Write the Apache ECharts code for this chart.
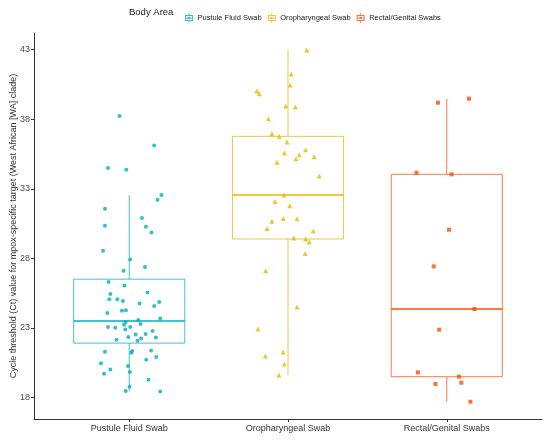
<!DOCTYPE html>
<html>
<head>
<meta charset="utf-8">
<script src="https://cdn.jsdelivr.net/npm/echarts@6/dist/echarts.min.js"></script>
<style>html,body{margin:0;padding:0;background:#fff}#c{width:550px;height:442px}</style>
</head>
<body>
<div id="c"></div>
<script>
const categories = ["Pustule Fluid Swab", "Oropharyngeal Swab", "Rectal/Genital Swabs"];
const yTicks = [18, 23, 28, 33, 38, 43];
const colors = ["#00AFBB", "#E7B800", "#FC4E07"];

// Ct values
const pustuleValues = [38.23,36.12,34.49,34.37,32.55,32.21,31.57,30.90,30.35,30.27,29.86,28.55,27.92,27.38,27.11,26.30,26.05,25.55,25.43,25.05,25.05,24.93,24.86,24.76,24.57,24.07,24.23,24.26,23.68,23.56,23.42,23.28,23.23,23.06,23.01,23.06,22.89,22.77,22.53,22.56,22.34,22.24,22.31,22.15,22.08,21.29,21.34,21.21,21.38,20.90,20.71,20.45,20.26,20.01,19.83,19.70,19.27,18.77,18.46,18.43];
const pustuleJitter = [-0.061,0.157,-0.134,-0.019,0.203,0.178,-0.153,0.080,-0.153,0.105,0.140,-0.165,0.006,0.099,-0.036,-0.130,-0.030,0.115,-0.119,-0.126,-0.075,-0.040,0.189,0.065,0.157,-0.138,-0.046,-0.021,0.195,0.057,-0.023,0.071,-0.033,-0.134,-0.088,0.006,-0.025,0.147,0.040,0.103,-0.006,0.075,0.168,-0.080,0.052,-0.153,0.019,0.013,0.138,0.170,0.107,-0.178,-0.008,-0.119,0.004,-0.159,0.121,0.002,-0.023,0.195];

const oroValues = [42.98,41.25,40.46,40.03,39.84,38.95,38.88,38.04,36.96,36.77,36.36,35.81,35.57,35.45,35.31,35.16,34.90,33.92,32.55,32.09,31.78,30.87,30.85,30.66,30.15,29.96,29.46,29.39,29.17,28.35,27.11,24.50,22.92,21.26,20.98,20.40,19.61];
const oroJitter = [0.118,0.021,0.013,-0.197,-0.181,-0.014,0.046,-0.124,-0.101,-0.055,-0.006,0.111,-0.023,0.071,0.165,0.050,-0.069,0.197,-0.025,-0.082,0.011,-0.030,0.057,-0.101,-0.132,0.159,0.036,0.111,0.134,0.109,-0.140,0.057,-0.189,-0.031,-0.143,-0.023,-0.057];

const rectalValues = [39.19,39.48,34.16,34.04,30.06,27.42,24.36,22.87,19.80,19.49,18.97,19.06,17.69];
const rectalJitter = [-0.055,0.140,-0.191,0.030,0.014,-0.082,0.174,-0.048,-0.182,0.077,-0.071,0.092,0.149];

const groups = [
  {values: pustuleValues, jitter: pustuleJitter, symbol: 'circle', size: 4},
  {values: oroValues, jitter: oroJitter, symbol: 'triangle', size: 5},
  {values: rectalValues, jitter: rectalJitter, symbol: 'rect', size: 4}
];

function quantile(sorted, p) {
  const pos = (sorted.length - 1) * p;
  const lo = Math.floor(pos), hi = Math.ceil(pos);
  return sorted[lo] + (sorted[hi] - sorted[lo]) * (pos - lo);
}
function boxStats(values) {
  const s = values.slice().sort((a, b) => a - b);
  const q1 = quantile(s, 0.25), med = quantile(s, 0.5), q3 = quantile(s, 0.75);
  const iqr = q3 - q1;
  const lo = s.find(v => v >= q1 - 1.5 * iqr);
  const hi = s.slice().reverse().find(v => v <= q3 + 1.5 * iqr);
  return [lo, q1, med, q3, hi];
}

const boxData = groups.map((g, i) => [i + 1].concat(boxStats(g.values)));

const legendIcon = 'path://M1,2H9V8H1Z M1.9,2.9V7.1H8.1V2.9Z M1.9,4.55H8.1V5.45H1.9Z M4,4H6V6H4Z M4.6,0H5.4V2H4.6Z M4.6,8H5.4V10H4.6Z';

const series = [{
  type: 'custom',
  name: 'boxes',
  data: boxData,
  z: 1,
  renderItem: function (params, api) {
    const x = api.value(0);
    const i = params.dataIndex;
    const c = colors[i];
    const half = 0.35;
    const pLo = api.coord([x, api.value(1)]);
    const pQ1L = api.coord([x - half, api.value(2)]);
    const pQ3R = api.coord([x + half, api.value(4)]);
    const pMedL = api.coord([x - half, api.value(3)]);
    const pMedR = api.coord([x + half, api.value(3)]);
    const pQ1 = api.coord([x, api.value(2)]);
    const pQ3 = api.coord([x, api.value(4)]);
    const pHi = api.coord([x, api.value(5)]);
    return {
      type: 'group',
      children: [
        {type: 'line', shape: {x1: pQ3[0], y1: pQ3[1], x2: pHi[0], y2: pHi[1]}, style: {stroke: c, lineWidth: 1, opacity: 0.75}},
        {type: 'line', shape: {x1: pLo[0], y1: pLo[1], x2: pQ1[0], y2: pQ1[1]}, style: {stroke: c, lineWidth: 1, opacity: 0.75}},
        {type: 'rect', shape: {x: pQ1L[0], y: pQ3R[1], width: pQ3R[0] - pQ1L[0], height: pQ1L[1] - pQ3R[1]}, style: {stroke: c, fill: '#fff', lineWidth: 1, opacity: 0.75}},
        {type: 'line', shape: {x1: pMedL[0], y1: pMedL[1], x2: pMedR[0], y2: pMedR[1]}, style: {stroke: c, lineWidth: 1.6}}
      ]
    };
  }
}];

groups.forEach((g, i) => {
  series.push({
    type: 'scatter',
    name: categories[i],
    z: 3,
    symbol: g.symbol,
    symbolSize: g.size,
    itemStyle: {color: colors[i]},
    data: g.values.map((v, k) => [i + 1 + g.jitter[k], v])
  });
});

const chart = echarts.init(document.getElementById('c'), null, {renderer: 'canvas'});
chart.setOption({
  animation: false,
  backgroundColor: '#fff',
  textStyle: {fontFamily: 'Liberation Sans, Arial, sans-serif'},
  grid: {left: 34, right: 8, top: 33, bottom: 23, containLabel: false, outerBoundsMode: 'none'},
  graphic: [{
    type: 'text', left: 129, top: 7,
    style: {text: 'Body Area', fontSize: 9.5, fill: '#222', fontFamily: 'Liberation Sans, Arial, sans-serif'}
  }],
  legend: {
    left: 180, top: 8,
    itemWidth: 9, itemHeight: 10, itemGap: 6,
    textStyle: {fontSize: 7.5, color: '#222', padding: [0, 0, 0, -1]},
    data: categories.map(n => ({name: n, icon: legendIcon}))
  },
  xAxis: {
    type: 'value', min: 0.4, max: 3.6,
    splitLine: {show: false},
    axisLine: {lineStyle: {color: '#333', width: 1}},
    axisTick: {customValues: [1, 2, 3], length: 3, lineStyle: {color: '#333'}},
    axisLabel: {customValues: [1, 2, 3], fontSize: 9, color: '#333', margin: 5,
      formatter: v => categories[Math.round(v) - 1] || ''}
  },
  yAxis: {
    type: 'value', min: 16.45, max: 44.2,
    name: 'Cycle threshold (Ct) value for mpox-specific target (West African [WA] clade)',
    nameLocation: 'middle', nameGap: 16, nameMoveOverlap: false,
    nameTextStyle: {fontSize: 9, color: '#333'},
    splitLine: {show: false},
    axisLine: {show: true, lineStyle: {color: '#333', width: 1}},
    axisTick: {show: true, customValues: yTicks, length: 3, lineStyle: {color: '#333'}},
    axisLabel: {customValues: yTicks, fontSize: 9, color: '#4d4d4d', margin: 4}
  },
  series: series
});
</script>
</body>
</html>
